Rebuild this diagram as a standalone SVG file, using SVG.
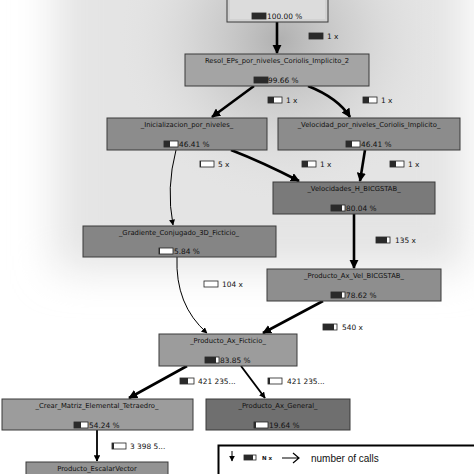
<svg xmlns="http://www.w3.org/2000/svg" width="474" height="474" viewBox="0 0 474 474">
<defs>
<filter id="blur" x="-30%" y="-30%" width="160%" height="160%"><feGaussianBlur stdDeviation="20"/></filter>
<radialGradient id="spot" cx="280" cy="40" r="160" gradientUnits="userSpaceOnUse">
<stop offset="0" stop-color="#b0b0b0" stop-opacity="1"/>
<stop offset="0.5" stop-color="#c8c8c8" stop-opacity="0.6"/>
<stop offset="1" stop-color="#e0e0e0" stop-opacity="0"/>
</radialGradient>
<marker id="ah" viewBox="0 0 10 10" refX="9" refY="5" markerWidth="3.5" markerHeight="3.5" orient="auto" markerUnits="strokeWidth">
<path d="M0,0 L10,5 L0,10 z" fill="#000"/>
</marker>
<marker id="ahs" viewBox="0 0 10 10" refX="9" refY="5" markerWidth="6" markerHeight="6" orient="auto" markerUnits="strokeWidth">
<path d="M0,0 L10,5 L0,10 z" fill="#000"/>
</marker>
</defs>
<style>
.n{stroke:#3a3a3a;stroke-width:1}
.t{font-family:"DejaVu Sans",sans-serif;font-size:6.8px;fill:#111;text-anchor:middle}
.p{font-family:"DejaVu Sans",sans-serif;font-size:7.4px;fill:#111}
.l{font-family:"DejaVu Sans",sans-serif;font-size:7.4px;fill:#111}
.bw{fill:#fff;stroke:#222;stroke-width:0.8}
.bd{fill:#2a2a2a}
.e{fill:none;stroke:#000}
.thick{stroke-width:2.6}
.mid{stroke-width:1.8}
.thin{stroke-width:1}
</style>
<rect width="474" height="474" fill="#fff"/>
<rect x="55" y="-60" width="410" height="330" fill="#e4e4e4" filter="url(#blur)"/>
<rect x="80" y="-40" width="380" height="260" fill="url(#spot)"/>

<g id="connectors">
<path class="e thick" d="M277,22 L277,53" marker-end="url(#ah)"/>
<path class="e thick" d="M254,86 L212,117" marker-end="url(#ah)"/>
<path class="e thick" d="M308,86 Q338,98 350,117" marker-end="url(#ah)"/>
<path class="e thick" d="M231,150 Q262,162 299,181" marker-end="url(#ah)"/>
<path class="e thick" d="M365,150 L360,181" marker-end="url(#ah)"/>
<path class="e thin" d="M176,150 Q166,188 173,225" marker-end="url(#ahs)"/>
<path class="e thick" d="M354,214 L354,268" marker-end="url(#ah)"/>
<path class="e thin" d="M177,257 Q175,305 207,333" marker-end="url(#ahs)"/>
<path class="e thick" d="M323,301 L263,333" marker-end="url(#ah)"/>
<path class="e thick" d="M187,366 L129,398" marker-end="url(#ah)"/>
<path class="e mid" d="M241,366 L265,398" marker-end="url(#ah)"/>
<path class="e mid" d="M97,430 L97,461" marker-end="url(#ah)"/>

<g id="edge-labels">
<rect class="bw" x="309" y="33" width="14" height="6"/><rect class="bd" x="309" y="33" width="14" height="6"/><text class="l" x="327" y="39">1 x</text>
<rect class="bw" x="268" y="97" width="14" height="6"/><rect class="bd" x="268" y="97" width="6" height="6"/><text class="l" x="286" y="103">1 x</text>
<rect class="bw" x="363" y="97" width="14" height="6"/><rect class="bd" x="363" y="97" width="6" height="6"/><text class="l" x="381" y="103">1 x</text>
<rect class="bw" x="200" y="161" width="14" height="6"/><rect class="bd" x="200" y="161" width="1" height="6"/><text class="l" x="218" y="167">5 x</text>
<rect class="bw" x="302" y="161" width="14" height="6"/><rect class="bd" x="302" y="161" width="6" height="6"/><text class="l" x="320" y="167">1 x</text>
<rect class="bw" x="390" y="161" width="14" height="6"/><rect class="bd" x="390" y="161" width="6" height="6"/><text class="l" x="408" y="167">1 x</text>
<rect class="bw" x="376" y="237" width="14" height="6"/><rect class="bd" x="376" y="237" width="11" height="6"/><text class="l" x="395" y="243">135 x</text>
<rect class="bw" x="204" y="281" width="14" height="6"/><text class="l" x="222" y="287">104 x</text>
<rect class="bw" x="323" y="324" width="14" height="6"/><rect class="bd" x="323" y="324" width="11" height="6"/><text class="l" x="342" y="330">540 x</text>
<rect class="bw" x="180" y="378" width="14" height="6"/><rect class="bd" x="180" y="378" width="8" height="6"/><text class="l" x="198" y="384">421 235...</text>
<rect class="bw" x="268" y="378" width="14" height="6"/><rect class="bd" x="268" y="378" width="2" height="6"/><text class="l" x="287" y="384">421 235...</text>
<rect class="bw" x="112" y="443" width="14" height="6"/><rect class="bd" x="112" y="443" width="2" height="6"/><text class="l" x="130" y="449">3 398 5...</text>
</g>
</g>

<g id="node-main">
<rect class="n" x="227" y="-10" width="101" height="32" fill="#d2d2d2"/>
<rect x="230" y="-8" width="95" height="27" fill="#dcdcdc"/>
<rect class="bw" x="252" y="13" width="14" height="6"/><rect class="bd" x="252" y="13" width="14" height="6"/>
<text class="p" x="267" y="19">100.00 %</text>
</g>

<g id="node-resol">
<rect class="n" x="185" y="54" width="184" height="32" fill="#a4a4a4"/>
<text class="t" x="277" y="63">Resol_EPs_por_niveles_Coriolis_Implicito_2</text>
<rect class="bw" x="254" y="77" width="14" height="6"/><rect class="bd" x="254" y="77" width="14" height="6"/>
<text class="p" x="268" y="83">99.66 %</text>
</g>

<g id="node-inicializacion">
<rect class="n" x="107" y="118" width="160" height="32" fill="#8c8c8c"/>
<text class="t" x="187" y="127">_Inicializacion_por_niveles_</text>
<rect class="bw" x="164" y="141" width="14" height="6"/><rect class="bd" x="164" y="141" width="6" height="6"/>
<text class="p" x="179" y="147">46.41 %</text>
</g>

<g id="node-velocidad">
<rect class="n" x="278" y="118" width="182" height="32" fill="#8c8c8c"/>
<text class="t" x="369" y="127">_Velocidad_por_niveles_Coriolis_Implicito_</text>
<rect class="bw" x="346" y="141" width="14" height="6"/><rect class="bd" x="346" y="141" width="6" height="6"/>
<text class="p" x="361" y="147">46.41 %</text>
</g>

<g id="node-velocidades-h">
<rect class="n" x="273" y="182" width="162" height="32" fill="#7a7a7a"/>
<text class="t" x="354" y="191">_Velocidades_H_BICGSTAB_</text>
<rect class="bw" x="331" y="205" width="14" height="6"/><rect class="bd" x="331" y="205" width="11" height="6"/>
<text class="p" x="346" y="211">80.04 %</text>
</g>

<g id="node-gradiente">
<rect class="n" x="83" y="226" width="193" height="31" fill="#858585"/>
<text class="t" x="179" y="235">_Gradiente_Conjugado_3D_Ficticio_</text>
<rect class="bw" x="159" y="248" width="14" height="6"/><rect class="bd" x="159" y="248" width="1" height="6"/>
<text class="p" x="174" y="254">5.84 %</text>
</g>

<g id="node-producto-ax-vel">
<rect class="n" x="267" y="269" width="174" height="32" fill="#8e8e8e"/>
<text class="t" x="354" y="278">_Producto_Ax_Vel_BICGSTAB_</text>
<rect class="bw" x="331" y="292" width="14" height="6"/><rect class="bd" x="331" y="292" width="11" height="6"/>
<text class="p" x="346" y="298">78.62 %</text>
</g>

<g id="node-producto-ax-ficticio">
<rect class="n" x="159" y="334" width="138" height="32" fill="#9c9c9c"/>
<text class="t" x="228" y="343">_Producto_Ax_Ficticio_</text>
<rect class="bw" x="205" y="357" width="14" height="6"/><rect class="bd" x="205" y="357" width="11" height="6"/>
<text class="p" x="220" y="363">83.85 %</text>
</g>

<g id="node-crear-matriz">
<rect class="n" x="2" y="399" width="191" height="31" fill="#9c9c9c"/>
<text class="t" x="97" y="408">_Crear_Matriz_Elemental_Tetraedro_</text>
<rect class="bw" x="74" y="422" width="14" height="6"/><rect class="bd" x="74" y="422" width="7" height="6"/>
<text class="p" x="89" y="428">54.24 %</text>
</g>

<g id="node-producto-ax-general">
<rect class="n" x="206" y="399" width="144" height="31" fill="#6f6f6f"/>
<text class="t" x="278" y="408">_Producto_Ax_General_</text>
<rect class="bw" x="254" y="422" width="14" height="6"/><rect class="bd" x="254" y="422" width="2" height="6"/>
<text class="p" x="269" y="428">19.64 %</text>
</g>

<g id="node-producto-escalarvector">
<rect class="n" x="26" y="462" width="142" height="24" fill="#939393"/>
<text class="t" x="97" y="471">Producto_EscalarVector</text>
</g>

<g id="legend">
<rect x="218.5" y="445.5" width="270" height="40" fill="#fff" stroke="#000" stroke-width="2"/>
<path d="M232,451 L232,461" stroke="#000" stroke-width="1" fill="none" marker-end="url(#ahs)"/>
<rect class="bw" x="244" y="455" width="12" height="5"/><rect class="bd" x="244" y="455" width="9" height="5"/>
<text x="262" y="460" font-family="DejaVu Sans,sans-serif" font-size="5.5px" font-weight="bold" fill="#111">N x</text>
<path d="M282,458 L299,458 M293,453 L299,458 L293,463" stroke="#000" stroke-width="1.2" fill="none"/>
<text x="311" y="462" font-family="Liberation Sans,sans-serif" font-size="10px" fill="#111">number of calls</text>
</g>
</svg>
